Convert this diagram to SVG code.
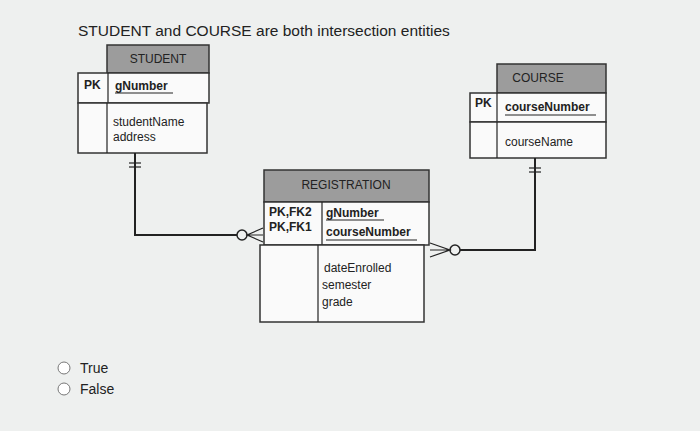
<svg xmlns="http://www.w3.org/2000/svg" width="700" height="431" viewBox="0 0 700 431">
<style>
text{font-family:"Liberation Sans",Arial,sans-serif;fill:#222}
.t{font-size:12px}
.b{font-size:12px;font-weight:bold}
.hdr{fill:#9c9c9c;stroke:#333;stroke-width:1.5}
.box{fill:#fafafa;stroke:#333;stroke-width:1.5}
.ln{fill:none;stroke:#222;stroke-width:2}
.u{stroke:#222;stroke-width:1.2}
</style>
<rect width="700" height="431" fill="#eef0ef"/>
<text x="78" y="36" style="font-size:15.5px">STUDENT and COURSE are both intersection entities</text>
<g id="student">
<rect class="hdr" x="107" y="45" width="102" height="28"/>
<text class="t" x="158" y="63" text-anchor="middle">STUDENT</text>
<rect class="box" x="78" y="73" width="131" height="30"/>
<line class="u" x1="108" y1="73" x2="108" y2="103"/>
<text class="b" x="84" y="89">PK</text>
<text class="b" x="115" y="90">gNumber</text>
<line class="u" x1="115" y1="93" x2="173" y2="93"/>
<rect class="box" x="78" y="103" width="129" height="50"/>
<line class="u" x1="107" y1="103" x2="107" y2="153"/>
<text class="t" x="113" y="126">studentName</text>
<text class="t" x="113" y="141">address</text>
</g>
<g id="course">
<rect class="hdr" x="497" y="64" width="109" height="29"/>
<text class="t" x="538" y="82" text-anchor="middle">COURSE</text>
<rect class="box" x="470" y="93" width="136" height="29"/>
<line class="u" x1="497" y1="93" x2="497" y2="122"/>
<text class="b" x="475" y="107">PK</text>
<text class="b" x="505" y="111">courseNumber</text>
<line class="u" x1="505" y1="115" x2="596" y2="115"/>
<rect class="box" x="470" y="122" width="136" height="36"/>
<line class="u" x1="497" y1="122" x2="497" y2="158"/>
<text class="t" x="505" y="146">courseName</text>
</g>
<g id="registration">
<rect class="hdr" x="264" y="170" width="165" height="32"/>
<text class="t" x="346" y="189" text-anchor="middle">REGISTRATION</text>
<rect class="box" x="264" y="202" width="165" height="43"/>
<line class="u" x1="322" y1="202" x2="322" y2="245"/>
<text class="b" x="269" y="216">PK,FK2</text>
<text class="b" x="269" y="231">PK,FK1</text>
<text class="b" x="326" y="217">gNumber</text>
<line class="u" x1="326" y1="220" x2="384" y2="220"/>
<text class="b" x="326" y="236">courseNumber</text>
<line class="u" x1="326" y1="240" x2="417" y2="240"/>
<rect class="box" x="260" y="245" width="164" height="77"/>
<line class="u" x1="318" y1="245" x2="318" y2="322"/>
<text class="t" x="324" y="272">dateEnrolled</text>
<text class="t" x="322" y="289">semester</text>
<text class="t" x="322" y="306">grade</text>
</g>
<g id="connectors">
<path class="ln" d="M135,153 V235 H237"/>
<line class="u" x1="129" y1="163" x2="141" y2="163"/><line class="u" x1="129" y1="167" x2="141" y2="167"/>
<circle cx="242" cy="235" r="5" fill="#eef0ef" stroke="#222" stroke-width="1.5"/>
<path class="u" fill="none" d="M263,228 L247,235 L263,242 M247,235 H263"/>
<path class="ln" d="M535,158 V250 H460"/>
<line class="u" x1="529" y1="168" x2="541" y2="168"/><line class="u" x1="529" y1="172" x2="541" y2="172"/>
<circle cx="455" cy="250" r="5" fill="#eef0ef" stroke="#222" stroke-width="1.5"/>
<path class="u" fill="none" d="M430,243 L450,250 L430,257 M430,250 H450"/>
</g>
<g id="options">
<circle cx="64" cy="368" r="6" fill="#fff" stroke="#777"/>
<text x="80" y="373" style="font-size:14px">True</text>
<circle cx="64" cy="389" r="6" fill="#fff" stroke="#777"/>
<text x="80" y="394" style="font-size:14px">False</text>
</g>
</svg>
